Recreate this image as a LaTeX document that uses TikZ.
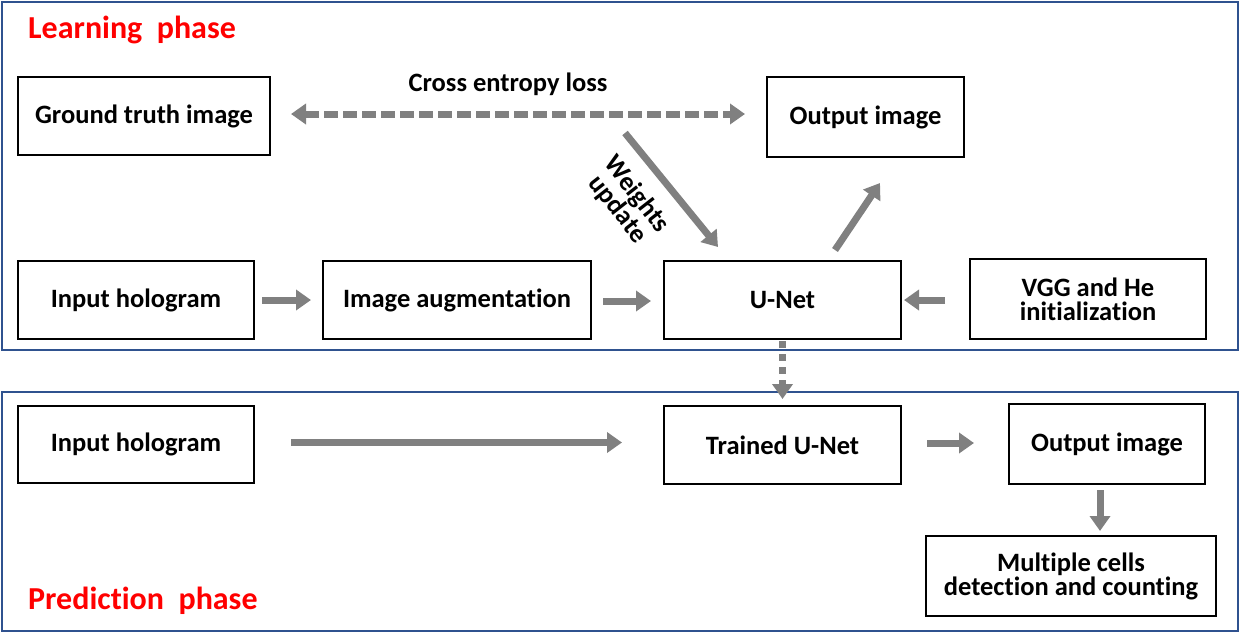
\documentclass[tikz,border=0pt]{standalone}
\usepackage{fontspec}
\setmainfont[Ligatures={NoCommon}]{Carlito}
\usetikzlibrary{arrows.meta,calc}
\definecolor{frameblue}{HTML}{2F528F}
\definecolor{arrgray}{HTML}{808080}
\begin{document}
\begin{tikzpicture}[x=1pt,y=-1pt,
  box/.style={draw=black,line width=2pt,font=\bfseries\fontsize{26.5}{24}\selectfont,align=center,inner sep=0pt},
  frame/.style={draw=frameblue,line width=2.5pt},
  phase/.style={text=red,font=\bfseries\fontsize{32}{34}\selectfont,anchor=west,inner sep=0pt},
  lbl/.style={font=\bfseries\fontsize{26.5}{23}\selectfont,inner sep=0pt},
  arr/.style={draw=arrgray,line width=7pt,-{Triangle[width=20pt,length=15pt]}},
  darr/.style={draw=arrgray,line width=7pt,{Triangle[width=20pt,length=15pt]}-{Triangle[width=20pt,length=15pt]},dash pattern=on 14pt off 5pt},
  varr/.style={draw=arrgray,line width=7pt,-{Triangle[width=20pt,length=15pt]},dash pattern=on 7pt off 6pt}
]
\useasboundingbox (0,0) rectangle (1241,633);
% frames
\draw[frame] (2,2) rectangle (1238,350);
\draw[frame] (2,392) rectangle (1238,631);
\node[phase] (lp) at (28,30) {Learning\ \ phase};
\node[phase] (pp) at (28,601) {Prediction\ \ phase};
% boxes (learning)
\node[box,minimum width=252pt,minimum height=78pt] (gt) at (144,116) {Ground truth image};
\node[box,minimum width=197pt,minimum height=80pt] (out1) at (865.5,117) {Output image};
\node[box,minimum width=236pt,minimum height=78pt] (ih1) at (136,300) {Input hologram};
\node[box,minimum width=268pt,minimum height=78pt] (aug) at (457,300) {Image augmentation};
\node[box,minimum width=237pt,minimum height=78pt] (unet) at (782.5,300) {U-Net};
\node[box,minimum width=236pt,minimum height=80pt] (vgg) at (1088,299) {VGG and He\\initialization};
% boxes (prediction)
\node[box,minimum width=236pt,minimum height=77pt] (ih2) at (136,444.5) {Input hologram};
\node[box,minimum width=237pt,minimum height=78pt] (tun) at (782.5,445) {Trained U-Net};
\node[box,minimum width=196pt,minimum height=80pt] (out2) at (1107,444) {Output image};
\node[box,minimum width=290pt,minimum height=80pt] (mc) at (1071,576) {Multiple cells\\detection and counting};
% labels
\node[lbl] (cel) at (508,84) {Cross entropy loss};
\node[lbl,rotate=-52,align=center] (wu) at (627,202) {Weights\\update};
% coordinates
\coordinate (ws) at (625,133);
\coordinate (we) at (718,247);
\coordinate (us) at (835,250);
\coordinate (ue) at (880,183);
\coordinate (ms) at (1100,490);
% arrows
\draw[darr,shorten <=20pt,shorten >=21pt] ([yshift=2pt]gt.east) -- ([yshift=2pt]gt.east -| out1.west);
\draw[arr] (ws) -- (we);
\draw[arr] (us) -- (ue);
\draw[arr,shorten <=7pt,shorten >=11pt] (ih1.east) -- (aug.west);
\draw[arr,shorten <=11pt,shorten >=12pt] ([yshift=-1pt]aug.east) -- ([yshift=-1pt]aug.east -| unet.west);
\draw[arr,shorten <=24pt,shorten >=2pt] (vgg.west |- unet.east) -- (unet.east);
\draw[varr,shorten <=1pt,shorten >=6pt] (unet.south) -- (tun.north);
\draw[arr,shorten <=36pt,shorten >=41pt] ([yshift=2pt]ih2.east) -- ([yshift=2pt]ih2.east -| tun.west);
\draw[arr,shorten <=25pt,shorten >=34pt] ([yshift=2pt]tun.east) -- ([yshift=2pt]tun.east -| out2.west);
\draw[arr,shorten >=4pt] (ms) -- (ms |- mc.north);
\end{tikzpicture}
\end{document}
